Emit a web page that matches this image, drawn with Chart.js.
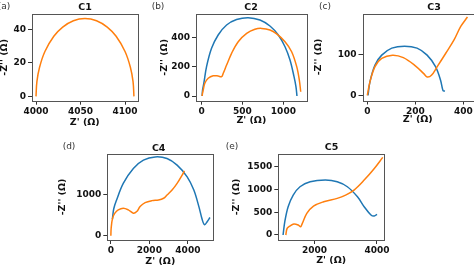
<!DOCTYPE html>
<html>
<head>
<meta charset="utf-8">
<script src="https://cdn.jsdelivr.net/npm/chart.js@4.4.1/dist/chart.umd.min.js"></script>
<style>
  body { margin: 0; background: #fff; width: 474px; height: 267px; overflow: hidden; position: relative; font-family: "DejaVu Sans", sans-serif; }
  canvas { position: absolute; }
  .lbl { position: absolute; transform: translate(-50%, -50%); white-space: nowrap; color: #222; }
  .panel { font-size: 9px; color: #333; }
  .ttl { font-size: 9.5px; font-weight: bold; color: #111; }
</style>
</head>
<body>
<script>
// C1
const c1OrangeX = [4000, 4001, 4004, 4010, 4020, 4030, 4042, 4055, 4068, 4080, 4090, 4100, 4106, 4109, 4110];
const c1OrangeY = [0, 8.8, 17.4, 26.8, 35.9, 41.4, 45.2, 46.5, 45.2, 41.4, 35.9, 26.8, 17.4, 8.8, 0];
const c1XTicks = [4000, 4050, 4100];
const c1YTicks = [0, 20, 40];

// C2
const c2BlueX = [7, 12, 28, 61, 122, 203, 306, 428, 570, 714, 836, 938, 1020, 1081, 1130, 1154, 1166];
const c2BlueY = [0, 40, 87, 200, 325, 416, 484, 521, 534, 518, 477, 416, 336, 245, 132, 63, 0];
const c2OrangeX = [7, 12, 20, 40, 81, 142, 203, 245, 265, 306, 367, 448, 551, 652, 734, 836, 918, 1020, 1101, 1163, 1195, 1212];
const c2OrangeY = [0, 20, 41, 87, 121, 138, 136, 132, 155, 211, 291, 370, 427, 455, 461, 450, 423, 370, 302, 200, 109, 29];
const c2XTicks = [0, 500, 1000];
const c2YTicks = [0, 200, 400];

// C3
const c3BlueX = [3, 11, 32, 60, 102, 155, 207, 249, 284, 305, 315, 323];
const c3BlueY = [0, 33, 74, 98, 115, 120, 115, 98, 70, 37, 12, 10];
const c3OrangeX = [0, 11, 32, 60, 105, 150, 200, 235, 249, 267, 291, 326, 361, 389, 417];
const c3OrangeY = [0, 33, 70, 90, 98, 92, 72, 53, 45, 49, 70, 102, 135, 168, 191];
const c3XTicks = [0, 200, 400];
const c3YTicks = [0, 100];

// C4
const c4BlueX = [80, 150, 298, 644, 1168, 1691, 2304, 2916, 3440, 3963, 4309, 4571, 4747, 4869, 5010, 5147];
const c4BlueY = [400, 650, 863, 1264, 1623, 1823, 1902, 1863, 1703, 1422, 1103, 703, 384, 264, 343, 439];
const c4OrangeX = [0, 16, 89, 209, 384, 644, 906, 1168, 1344, 1518, 1780, 2131, 2476, 2738, 2916, 3178, 3440, 3702, 3822];
const c4OrangeY = [0, 184, 424, 544, 624, 664, 624, 544, 583, 703, 799, 847, 863, 904, 983, 1103, 1264, 1463, 1566];
const c4XTicks = [0, 2000, 4000];
const c4YTicks = [0, 1000];

// C5
const c5BlueX = [995, 1050, 1157, 1319, 1536, 1861, 2347, 2727, 3051, 3375, 3589, 3807, 3914, 4000];
const c5BlueY = [0, 292, 621, 877, 1060, 1169, 1206, 1169, 1060, 840, 621, 439, 417, 454];
const c5OrangeX = [1082, 1124, 1212, 1341, 1481, 1559, 1611, 1754, 1968, 2292, 2727, 2996, 3265, 3589, 3914, 4185];
const c5OrangeY = [0, 146, 197, 241, 219, 182, 256, 476, 636, 730, 805, 877, 987, 1206, 1462, 1704];
const c5XTicks = [2000, 4000];
const c5YTicks = [0, 500, 1000, 1500];

const BLUE = "#1f77b4";
const ORANGE = "#ff7f0e";

function pts(xs, ys) {
  return xs.map((x, i) => ({ x: x, y: ys[i] }));
}

// cornice del grafico su tutti e quattro i lati
const framePlugin = {
  id: "frame",
  afterDraw(chart) {
    const a = chart.chartArea;
    const ctx = chart.ctx;
    ctx.save();
    ctx.strokeStyle = "#555";
    ctx.lineWidth = 1;
    ctx.strokeRect(Math.round(a.left) + 0.5, Math.round(a.top) + 0.5, Math.round(a.right - a.left), Math.round(a.bottom - a.top));
    ctx.restore();
  },
};

function addText(cls, text, x, y) {
  const d = document.createElement("div");
  d.className = "lbl " + cls;
  d.textContent = text;
  d.style.left = x + "px";
  d.style.top = y + "px";
  document.body.appendChild(d);
}

const tickFont = { family: "DejaVu Sans", size: 9, weight: "bold" };
const axisFont = { family: "DejaVu Sans", size: 9.5, weight: "bold", lineHeight: 1.2 };

function panel(p) {
  const lh = 9.5 * 1.2;
  const [L, T, R, B] = p.frame;
  const scaleLeft = p.yTitleX - lh / 2;
  const scaleBottom = p.xTitleY + lh / 2;
  const wy = L - scaleLeft;
  const hx = scaleBottom - B;
  const cLeft = Math.floor(scaleLeft);
  const cTop = Math.floor(T - 4);
  const cRight = Math.ceil(R + 14);
  const cBottom = Math.ceil(scaleBottom);

  const canvas = document.createElement("canvas");
  canvas.width = cRight - cLeft;
  canvas.height = cBottom - cTop;
  canvas.style.left = cLeft + "px";
  canvas.style.top = cTop + "px";
  canvas.style.width = canvas.width + "px";
  canvas.style.height = canvas.height + "px";
  document.body.appendChild(canvas);

  const datasets = p.series.map((s) => ({
    data: pts(s.x, s.y),
    borderColor: s.color,
    backgroundColor: s.color,
    borderWidth: 1.5,
    pointRadius: 0,
    showLine: true,
    tension: 0.35,
  }));

  const gridCfg = { display: true, drawOnChartArea: false, drawTicks: true, tickLength: 4, color: "#333", lineWidth: 1 };

  new Chart(canvas, {
    type: "scatter",
    data: { datasets: datasets },
    options: {
      responsive: false,
      animation: false,
      devicePixelRatio: 1,
      layout: { padding: { left: scaleLeft - cLeft, top: T - cTop, right: cRight - R, bottom: cBottom - scaleBottom } },
      plugins: { legend: { display: false }, tooltip: { enabled: false }, title: { display: false } },
      scales: {
        x: {
          type: "linear",
          min: p.xMin,
          max: p.xMax,
          afterBuildTicks: (s) => { s.ticks = p.xTicks.map((v) => ({ value: v })); },
          afterFit: (s) => { s.height = hx; s.paddingLeft = 0; s.paddingRight = 0; },
          grid: gridCfg,
          border: { display: false },
          ticks: { color: "#111", font: tickFont, padding: 1.5, maxRotation: 0, autoSkip: false, callback: (v) => String(v) },
          title: { display: true, text: "Z' (Ω)", color: "#111", font: axisFont, padding: 0 },
        },
        y: {
          type: "linear",
          min: p.yMin,
          max: p.yMax,
          afterBuildTicks: (s) => { s.ticks = p.yTicks.map((v) => ({ value: v })); },
          afterFit: (s) => { s.width = wy; s.paddingTop = 0; s.paddingBottom = 0; },
          grid: gridCfg,
          border: { display: false },
          ticks: { color: "#111", font: tickFont, padding: 2, autoSkip: false, callback: (v) => String(v) },
          title: { display: true, text: "-Z'' (Ω)", color: "#111", font: axisFont, padding: 0 },
        },
      },
    },
    plugins: [framePlugin],
  });

  addText("panel", p.tag, p.tagX, p.tagY);
  addText("ttl", p.title, p.titleX, p.titleY);
}

panel({
  tag: "(a)", tagX: 4, tagY: 6, title: "C1", titleX: 85, titleY: 6,
  frame: [32, 14, 137.5, 100.7], yTitleX: 5, xTitleY: 122.5,
  xMin: 3995.5, xMax: 4114, yMin: -2.6, yMax: 49.2, xTicks: c1XTicks, yTicks: c1YTicks,
  series: [{ x: c1OrangeX, y: c1OrangeY, color: ORANGE }],
});

panel({
  tag: "(b)", tagX: 158, tagY: 6, title: "C2", titleX: 251, titleY: 6,
  frame: [196, 14, 306.7, 100.7], yTitleX: 165, xTitleY: 121,
  xMin: -68, xMax: 1285, yMin: -32, yMax: 559, xTicks: c2XTicks, yTicks: c2YTicks,
  series: [{ x: c2OrangeX, y: c2OrangeY, color: ORANGE }, { x: c2BlueX, y: c2BlueY, color: BLUE }],
});

panel({
  tag: "(c)", tagX: 325, tagY: 6, title: "C3", titleX: 434, titleY: 6,
  frame: [362.5, 13.5, 473, 100.5], yTitleX: 318.3, xTitleY: 120,
  xMin: -20, xMax: 440, yMin: -12.5, yMax: 199.5, xTicks: c3XTicks, yTicks: c3YTicks,
  series: [{ x: c3OrangeX, y: c3OrangeY, color: ORANGE }, { x: c3BlueX, y: c3BlueY, color: BLUE }],
});

panel({
  tag: "(d)", tagX: 69, tagY: 145.5, title: "C4", titleX: 158.7, titleY: 146.5,
  frame: [107.3, 154, 213.3, 240], yTitleX: 63, xTitleY: 261.5,
  xMin: -185, xMax: 5320, yMin: -104, yMax: 1973, xTicks: c4XTicks, yTicks: c4YTicks,
  series: [{ x: c4OrangeX, y: c4OrangeY, color: ORANGE }, { x: c4BlueX, y: c4BlueY, color: BLUE }],
});

panel({
  tag: "(e)", tagX: 232, tagY: 145.5, title: "C5", titleX: 331.5, titleY: 146,
  frame: [278.3, 154, 384, 240], yTitleX: 236.7, xTitleY: 261,
  xMin: 842, xMax: 4224, yMin: -110, yMax: 1779, xTicks: c5XTicks, yTicks: c5YTicks,
  series: [{ x: c5OrangeX, y: c5OrangeY, color: ORANGE }, { x: c5BlueX, y: c5BlueY, color: BLUE }],
});
</script>
</body>
</html>
